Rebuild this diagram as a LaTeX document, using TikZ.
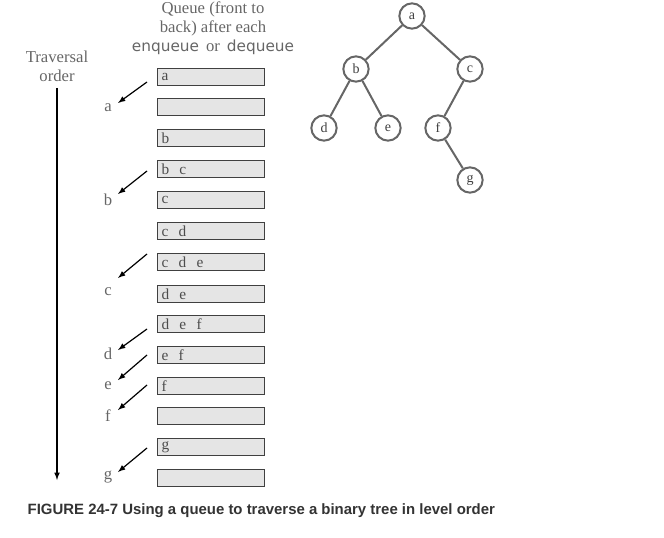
\documentclass[tikz,border=0pt]{standalone}
\usepackage{fontspec}
\setmainfont{Liberation Serif}
\newfontfamily\capfont{Liberation Sans}
\newfontfamily\monofont{DejaVu Sans}
\begin{document}
\begin{tikzpicture}[x=0.75pt,y=-0.75pt,
  qbox/.style={draw=black!75,fill=black!10,line width=0.9pt,minimum width=78pt,minimum height=13pt,inner sep=0pt,anchor=west,font=\fontsize{11.5}{12}\selectfont,text=black!70},
  tnode/.style={circle,draw=black!60,line width=1.5pt,fill=white,minimum size=19pt,inner sep=0pt,font=\fontsize{10.5}{11}\selectfont,text=black!75},
  tedge/.style={draw=black!60,line width=1.5pt},
  lab/.style={font=\fontsize{12.5}{14}\selectfont,text=black!60},
  arr/.style={-latex,line width=0.9pt}]
\useasboundingbox (0,0) rectangle (664,538);
\node[lab,align=center,font=\fontsize{12.5}{14.3}\selectfont] (hdr) at (213,28) {Queue (front to\\back) after each\\{\monofont\fontsize{11.5}{14}\selectfont enqueue}\, or\, {\monofont\fontsize{11.5}{14}\selectfont dequeue}};
\node[lab,align=center] (trav) at (57,66) {Traversal\\order};
\coordinate (vt) at (57,88);
\coordinate (vb) at (57,480);
\draw[arr] (vt) -- (vb);
\foreach \i/\y/\t in {1/77/a,2/107/,3/138/b,4/169/b\ \ c,5/200/c,6/231/c\ \ d,7/262/c\ \ d\ \ e,8/294/d\ \ e,9/324/d\ \ e\ \ f,10/355/e\ \ f,11/386/f,12/416/,13/447/g,14/478/}
  \node[qbox,text width=74pt,align=left,inner xsep=3pt] (q\i) at (157,\y) {\t};
\foreach \n/\sy/\ty/\ly in {a/82/103/108,b/171/194/200,c/254/278/292,d/329/350/354,e/355/380/386,f/385/410/416,g/448/472/477}{
  \coordinate (s\n) at (147,\sy);
  \node[lab] (l\n) at (108,\ly) {\n};
  \coordinate (t\n) at (118,\ty);
  \draw[arr] (s\n) -- (t\n);
}
\node[tnode] (a) at (412,16) {a};
\node[tnode] (b) at (356,69) {b};
\node[tnode] (c) at (470,69) {c};
\node[tnode] (d) at (324,128) {d};
\node[tnode] (e) at (388,128) {e};
\node[tnode] (f) at (438,128) {f};
\node[tnode] (g) at (470,180) {g};
\draw[tedge] (a)--(b) (a)--(c) (b)--(d) (b)--(e) (c)--(f) (f)--(g);
\node[anchor=west,font=\capfont\bfseries\fontsize{11.2}{13}\selectfont,text=black!80] (cap) at (23,511) {FIGURE 24-7 Using a queue to traverse a binary tree in level order};
\end{tikzpicture}
\end{document}
